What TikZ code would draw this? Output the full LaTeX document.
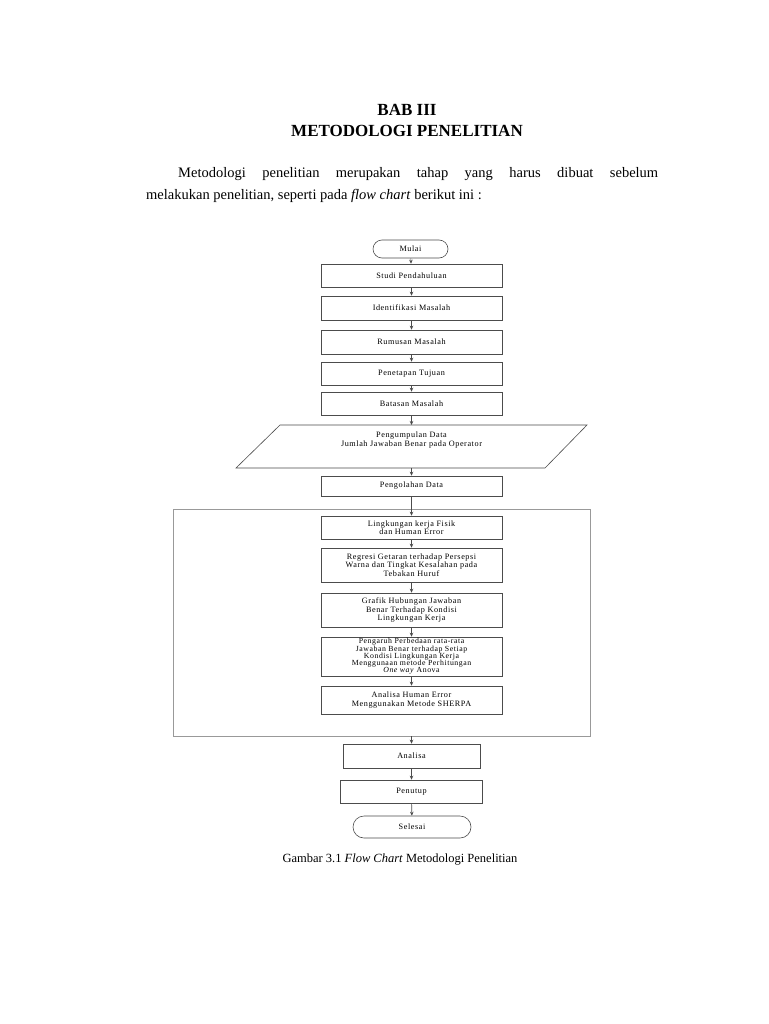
\documentclass[tikz,border=0pt]{standalone}
\usepackage{fontspec}
\setmainfont{Liberation Serif}
\newfontfamily\chartfont[LetterSpace=7]{Liberation Serif}
\usetikzlibrary{arrows.meta,shapes.geometric}
\begin{document}
\begin{tikzpicture}[x=1pt,y=-1pt,
  box/.style={draw=black!70,line width=0.6pt,fill=white,inner sep=0pt,align=center,font=\chartfont\fontsize{8.2}{8.4}\selectfont},
  term/.style={box,rounded corners=9pt},
  arr/.style={draw=black!70,line width=0.6pt,-{Stealth[length=4pt,width=3.5pt]}}]
\useasboundingbox (0,0) rectangle (768,1024);
\fill[white] (0,0) rectangle (768,1024);
\node[font=\bfseries\fontsize{17}{20}\selectfont] (t1) at (407,110) {BAB III};
\node[font=\bfseries\fontsize{17}{20}\selectfont] (t2) at (407,131) {METODOLOGI PENELITIAN};
\node[font=\fontsize{14.5}{17}\selectfont,inner sep=0pt,anchor=west] (p1) at (178,174) {\makebox[480pt][s]{Metodologi penelitian merupakan tahap yang harus dibuat sebelum}};
\node[font=\fontsize{14.5}{17}\selectfont,inner sep=0pt,anchor=west] (p2) at (146,196) {melakukan penelitian, seperti pada \emph{flow chart} berikut ini :};
% group box
\node[draw=black!40,line width=0.6pt,minimum width=417pt,minimum height=227pt,inner sep=0pt] (grp) at (381.5,622.5) {};
\node[term,minimum width=75pt,minimum height=18pt] (mul) at (410.5,249) {Mulai};
\node[box,minimum width=181pt,minimum height=23pt] (stu) at (411.5,275.5) {Studi Pendahuluan};
\node[box,minimum width=181pt,minimum height=24pt] (ide) at (411.5,308) {Identifikasi Masalah};
\node[box,minimum width=181pt,minimum height=24pt] (rum) at (411.5,342) {Rumusan Masalah};
\node[box,minimum width=181pt,minimum height=23pt] (pen) at (411.5,373.5) {Penetapan Tujuan};
\node[box,minimum width=181pt,minimum height=23pt] (bat) at (411.5,403.5) {Batasan Masalah};
\draw[draw=black!70,line width=0.6pt,fill=white] (280,425) -- (587,425) -- (545,468) -- (236,468) -- cycle;
\node[box,draw=none,fill=none] (kum) at (411.5,440) {Pengumpulan Data\\Jumlah Jawaban Benar pada Operator};
\coordinate (kumt) at (411.5,425);
\coordinate (kumb) at (411.5,468);
\node[box,minimum width=181pt,minimum height=20pt] (olh) at (411.5,486) {Pengolahan Data};
\node[box,minimum width=181pt,minimum height=23pt] (lin) at (411.5,527.5) {Lingkungan kerja Fisik\\dan Human Error};
\node[box,minimum width=181pt,minimum height=34pt] (reg) at (411.5,565) {Regresi Getaran terhadap Persepsi\\Warna dan Tingkat Kesalahan pada\\Tebakan Huruf};
\node[box,minimum width=181pt,minimum height=34pt] (gra) at (411.5,610) {Grafik Hubungan Jawaban\\Benar Terhadap Kondisi\\Lingkungan Kerja};
\node[box,minimum width=181pt,minimum height=39pt,font=\chartfont\fontsize{7.8}{7.3}\selectfont] (pgr) at (411.5,656.5) {Pengaruh Perbedaan rata-rata\\Jawaban Benar terhadap Setiap\\Kondisi Lingkungan Kerja\\Menggunaan metode Perhitungan\\\emph{One way} Anova};
\node[box,minimum width=181pt,minimum height=28pt] (ahe) at (411.5,700) {Analisa Human Error\\Menggunakan Metode SHERPA};
\node[box,minimum width=137pt,minimum height=24pt] (ana) at (411.5,756) {Analisa};
\node[box,minimum width=142pt,minimum height=23pt] (ptp) at (411.5,791.5) {Penutup};
\node[term,minimum width=118pt,minimum height=22pt,rounded corners=11pt] (sel) at (412,827) {Selesai};
\draw[arr] (mul) -- (stu);
\draw[arr] (stu) -- (ide);
\draw[arr] (ide) -- (rum);
\draw[arr] (rum) -- (pen);
\draw[arr] (pen) -- (bat);
\draw[arr] (bat) -- (kumt);
\draw[arr] (kumb) -- (olh);
\draw[arr] (olh) -- (lin);
\draw[arr] (lin) -- (reg);
\draw[arr] (reg) -- (gra);
\draw[arr] (gra) -- (pgr);
\draw[arr] (pgr) -- (ahe);
\draw[arr] (grp.south -| ana) -- (ana);
\draw[arr] (ana) -- (ptp);
\draw[arr] (ptp) -- (sel);
\node[font=\fontsize{12.5}{15}\selectfont] (cap) at (400,860) {Gambar 3.1 \emph{Flow Chart} Metodologi Penelitian};
\end{tikzpicture}
\end{document}
